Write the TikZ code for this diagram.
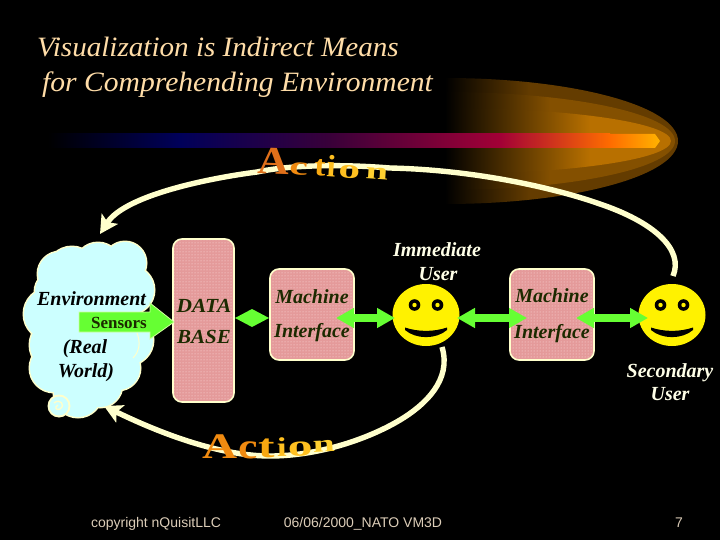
\documentclass[tikz,border=0pt]{standalone}
\usepackage{fontspec}
\setmainfont{Liberation Serif}
\newfontfamily\arialfont{Liberation Sans}
\usetikzlibrary{arrows.meta,patterns,calc}
\definecolor{cream}{HTML}{FFFFCC}
\definecolor{cloudc}{HTML}{CCFFFF}
\definecolor{titlec}{HTML}{FFDDA8}
\definecolor{grn}{HTML}{66FF33}
\definecolor{pinkc}{HTML}{E49A9A}
\definecolor{pinkd}{HTML}{FFE0E0}
\definecolor{boxtxt}{HTML}{1C2A00}
\definecolor{usertxt}{HTML}{FFFFE8}
\definecolor{foot}{HTML}{DCCDB8}
\definecolor{acA}{HTML}{E0701A}
\definecolor{acB}{HTML}{F08A10}
\definecolor{acC}{HTML}{F8A810}
\definecolor{acD}{HTML}{FFC020}
\definecolor{acE}{HTML}{FFD030}
\definecolor{beamA}{HTML}{643C00}
\definecolor{beamB}{HTML}{845000}
\definecolor{beamC}{HTML}{B87000}
\tikzset{
  titletext/.style={anchor=base west,inner sep=0,text=titlec,font=\fontsize{28}{30}\selectfont\itshape},
  boxlabel/.style={anchor=base,inner sep=0,text=boxtxt,font=\fontsize{20}{22}\selectfont\itshape\bfseries},
  cloudlabel/.style={anchor=base,inner sep=0,text=black,font=\fontsize{20}{22}\selectfont\itshape\bfseries},
  userlabel/.style={anchor=base,inner sep=0,text=usertxt,font=\fontsize{20}{22}\selectfont\itshape\bfseries},
  footer/.style={anchor=base,inner sep=0,text=foot,font=\arialfont\fontsize{14}{16}\selectfont},
  pinkbox/.style={draw=cream,line width=1.6pt,rounded corners=9pt,preaction={fill=pinkc},pattern=dots,pattern color=pinkd,inner sep=0},
  greenarrow/.style={draw=grn,line width=8.5pt,{Triangle[length=18pt,width=19pt]}-{Triangle[length=18pt,width=19pt]}},
  loopline/.style={draw=cream,line width=5.4pt,-{Stealth[length=18pt,width=19pt,inset=4pt]}},
  actlet/.style={anchor=base west,inner sep=0,font=\bfseries},
}
\newcommand{\actl}[7]{\node[actlet,text=#6,rotate=#7] at (#1,#2) {\fontsize{#4}{#4}\selectfont\scalebox{#5}[1]{#3}};}
\newcommand{\smiley}[3]{%
  \node[fill=yellow,draw=none,inner sep=0,minimum width=0pt] (#1) at (#2,#3) {};
  \fill[yellow] (#2,#3) ellipse [x radius=33.5,y radius=31];
  \foreach \ex in {-11.5,11.5}{
    \fill[black] ($(#2,#3)+(\ex,-10)$) circle (5.8);
    \fill[yellow] ($(#2,#3)+(\ex,-10)$) circle (2.2);
  }
  \fill[black] ($(#2,#3)+(-21,12.5)$) .. controls ($(#2,#3)+(-8,17)$) and ($(#2,#3)+(8,17)$) .. ($(#2,#3)+(21,12.5)$) -- ($(#2,#3)+(21,15)$) .. controls ($(#2,#3)+(10,24.5)$) and ($(#2,#3)+(-10,24.5)$) .. ($(#2,#3)+(-21,15)$) -- cycle;
}
\newcommand{\cloudbody}[2]{%
 \path[#1] (98,266) circle (#2+23) (125,263) circle (#2+21) (72,272) circle (#2+25) (60,274) circle (#2+22)
  (57,292) circle (#2+22) (50,314) circle (#2+26) (56,345) circle (#2+26)
  (54,368) circle (#2+24) (78,393) circle (#2+24) (100,385) circle (#2+22) (118,368) circle (#2+22)
  (128,340) circle (#2+25) (130,290) circle (#2+24) (90,315) circle (#2+50) (82,365) circle (#2+20);
}
\begin{document}
\begin{tikzpicture}[x=1pt,y=-1pt]
\useasboundingbox (0,0) rectangle (720,540);
\fill[black] (0,0) rectangle (720,540);

% beam
\begin{scope}
  \clip (445,78) arc[start angle=-90,end angle=90,x radius=233,y radius=63] -- cycle;
  \shade[left color=black,right color=beamA] (445,78) rectangle (530,204);
  \fill[beamA] (530,78) rectangle (680,204);
\end{scope}
\begin{scope}
  \clip (445,92) arc[start angle=-90,end angle=90,x radius=230,y radius=49] -- cycle;
  \shade[left color=black,right color=beamB] (445,92) rectangle (550,190);
  \fill[beamB] (550,92) rectangle (680,190);
\end{scope}
\begin{scope}
  \clip (445,108) arc[start angle=-90,end angle=90,x radius=226,y radius=33] -- cycle;
  \shade[left color=black,right color=beamC] (445,108) rectangle (590,174);
  \fill[beamC] (590,108) rectangle (680,174);
\end{scope}
\shade[left color=black,right color=blue!35!black] (48,134) rectangle (180,148);
\shade[left color=blue!35!black,right color=black!55!violet] (180,134) rectangle (330,148);
\shade[left color=black!55!violet,right color=purple!85!black] (330,134) rectangle (500,148);
\shade[left color=purple!85!black,right color=orange!85!red] (500,134) rectangle (610,148);
\shade[left color=orange!85!red,right color=orange!60!yellow] (610,134) -- (655,134) -- (660,141) -- (655,148) -- (610,148) -- cycle;

% title
\node[titletext] (t1) at (37,57) {\scalebox{1.04}[1]{Visualization is Indirect Means}};
\node[titletext] (t2) at (42,92) {\scalebox{1.057}[1]{for Comprehending Environment}};

% named points
\coordinate (loopTopS) at (673,276);
\coordinate (loopTopE) at (100,234);
\coordinate (loopBotS) at (442,347);
\coordinate (loopBotE) at (104,406);

% curves
\draw[loopline] (loopTopS) .. controls (684,250) and (655,222) .. (597,203) .. controls (560,190) and (480,170) .. (390,168) .. controls (340,164) and (290,165) .. (257,172) .. controls (210,178) and (125,195) .. (loopTopE);
\draw[loopline] (loopBotS) .. controls (452,380) and (425,405) .. (400,420) .. controls (370,438) and (320,456) .. (270,456) .. controls (225,456) and (170,438) .. (loopBotE);

% cloud
\cloudbody{fill=cream}{1.5}
\cloudbody{fill=cloudc}{0}
\fill[cream] (59,406) circle (11.5);
\fill[cloudc] (59,406) circle (9.5);
\draw[cream,line width=1.3pt] (54,403) .. controls (60,398) and (66,405) .. (60,409) .. controls (56,411) and (54,407) .. (58,405);
\draw[cream,line width=1pt] (137,333) .. controls (141,343) and (139,352) .. (133,358);

% boxes
\node[pinkbox,minimum width=61,minimum height=163] at (203.5,320.5) (db) {};
\node[pinkbox,minimum width=84,minimum height=91] at (312,314.5) (mi1) {};
\node[pinkbox,minimum width=84,minimum height=91] at (552,314.5) (mi2) {};

% faces
\smiley{face1}{426}{315}
\smiley{face2}{672}{315}

% sensors arrow
\fill[grn] (79,312) -- (150,312) -- (150,303) -- (174,322) -- (150,339) -- (150,332) -- (79,332) -- cycle;
\draw[cream!70!grn,line width=.8pt] (79,312) -- (150,312) -- (150,303) -- (174,322) -- (150,339) -- (150,332) -- (79,332) -- cycle;

% green connectors
\coordinate (a1) at (235,318); \coordinate (a2) at (269,318);
\coordinate (b1) at (336,318); \coordinate (b2) at (395,318);
\coordinate (c1) at (457,318); \coordinate (c2) at (527,318);
\coordinate (d1) at (576,318); \coordinate (d2) at (648,318);
\fill[grn] (a1) -- (252,309) -- (a2) -- (252,327) -- cycle;
\draw[greenarrow] (b1) -- (b2);
\draw[greenarrow] (c1) -- (c2);
\draw[greenarrow] (d1) -- (d2);

% labels
\node[cloudlabel] (env) at (91.5,305) {Environment};
\node[anchor=base,inner sep=0,font=\fontsize{17}{18}\selectfont\bfseries,text=boxtxt] (sens) at (119,328) {Sensors};
\node[cloudlabel] (real) at (85,353) {(Real};
\node[cloudlabel] (world) at (86,377) {World)};
\node[boxlabel] (data) at (204,312) {\scalebox{1.07}[1]{DATA}};
\node[boxlabel] (base) at (204,343) {\scalebox{1.05}[1]{BASE}};
\node[boxlabel] (m1) at (312,303) {Machine};
\node[boxlabel] (i1) at (312,337) {Interface};
\node[boxlabel] (m2) at (552,302) {Machine};
\node[boxlabel] (i2) at (552,338) {Interface};
\node[userlabel] (u1a) at (437,256) {Immediate};
\node[userlabel] (u1b) at (438,280) {User};
\node[userlabel] (u2a) at (670,377) {Secondary};
\node[userlabel] (u2b) at (670,400) {User};

% Action top
\actl{257}{173}{A}{39}{1.12}{acA}{-2}
\actl{289}{174}{c}{26}{1.6}{acB}{-3}
\actl{314}{175}{t}{29}{1.15}{acC}{-3}
\actl{326}{176}{i}{31}{1.05}{acD}{-4}
\actl{338}{177}{o}{27}{1.6}{acD}{-4}
\actl{365}{178}{n}{24}{1.7}{acE}{-4}
% Action bottom
\actl{202}{458}{A}{36}{1.35}{acB}{0}
\actl{238}{458}{c}{36}{1.2}{acB}{-1}
\actl{258}{457}{t}{33}{1.5}{acC}{0}
\actl{277}{457}{i}{27}{1.3}{acD}{1}
\actl{288}{457}{o}{30}{1.65}{acD}{2}
\actl{313}{453}{n}{24}{1.65}{acE}{3}

% footer
\node[footer] (f1) at (156,527) {copyright nQuisitLLC};
\node[footer] (f2) at (363,527) {06/06/2000\_NATO VM3D};
\node[footer] (f3) at (679,527) {7};
\end{tikzpicture}
\end{document}
